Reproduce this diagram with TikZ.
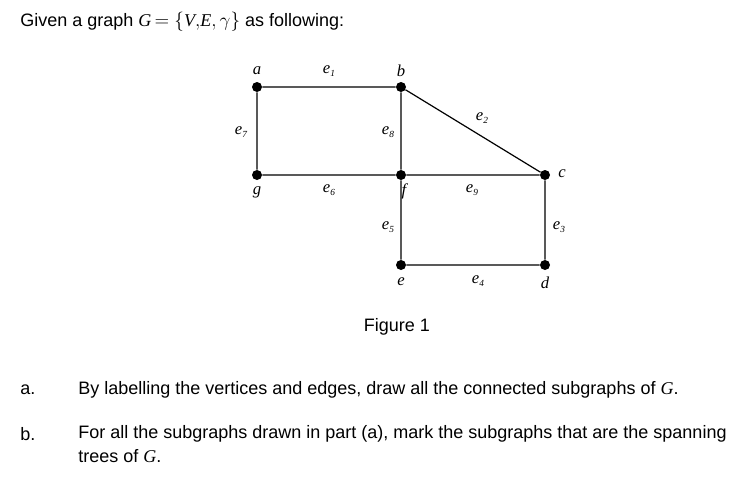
\documentclass[tikz,border=0pt]{standalone}
\usepackage{fontspec}
\setmainfont{Liberation Sans}
\newfontfamily\serifit{Liberation Serif}[ItalicFont=* Italic]
\newcommand{\vl}[1]{{\serifit\itshape #1}}
\newcommand{\el}[1]{{\serifit\itshape e}\raisebox{-0.35ex}{\serifit\itshape\fontsize{7}{8}\selectfont #1}}
\begin{document}
\begin{tikzpicture}[x=0.75pt,y=-0.75pt,
  vtx/.style={circle,fill=black,inner sep=0pt,minimum size=7.5pt},
  lbl/.style={font=\fontsize{12.5}{13}\selectfont},
  txt/.style={anchor=west,font=\fontsize{13.5}{15}\selectfont,inner sep=0pt}]
\useasboundingbox (0,0) rectangle (740,504);
\node[txt] at (20,22) {Given a graph \vl{G}$\,=\{$\vl{V}$,$\vl{E}$,\gamma\}$ as following:};
\node[vtx] (a) at (257,87) {};
\node[vtx] (b) at (401,87) {};
\node[vtx] (c) at (545,175) {};
\node[vtx] (g) at (257,175) {};
\node[vtx] (f) at (401,175) {};
\node[vtx] (e) at (401,265) {};
\node[vtx] (d) at (545,265) {};
\draw[line width=0.9pt] (a)--(b) (b)--(c) (a)--(g) (b)--(f) (g)--(f) (f)--(c) (f)--(e) (c)--(d) (e)--(d);
\node[lbl] at (257,71) {\vl{a}};
\node[lbl] at (401,71) {\vl{b}};
\node[lbl] at (562,174) {\vl{c}};
\node[lbl] at (545,283) {\vl{d}};
\node[lbl] at (401,282) {\vl{e}};
\node[lbl] at (404,191) {\vl{f}};
\node[lbl] at (257,192) {\vl{g}};
\node[lbl] at (329,71) {\el{1}};
\node[lbl] at (482,118) {\el{2}};
\node[lbl] at (559,227) {\el{3}};
\node[lbl] at (478,281) {\el{4}};
\node[lbl] at (388,227) {\el{5}};
\node[lbl] at (329,190) {\el{6}};
\node[lbl] at (241,132) {\el{7}};
\node[lbl] at (388,132) {\el{8}};
\node[lbl] at (472,190) {\el{9}};
\node[txt,anchor=center] at (397,327) {Figure 1};
\node[txt] at (20,390) {a.};
\node[txt] at (78,390) {By labelling the vertices and edges, draw all the connected subgraphs of \vl{G}.};
\node[txt] at (20,434) {b.};
\node[txt] at (78,434) {For all the subgraphs drawn in part (a), mark the subgraphs that are the spanning};
\node[txt] at (78,456) {trees of \vl{G}.};
\end{tikzpicture}
\end{document}
